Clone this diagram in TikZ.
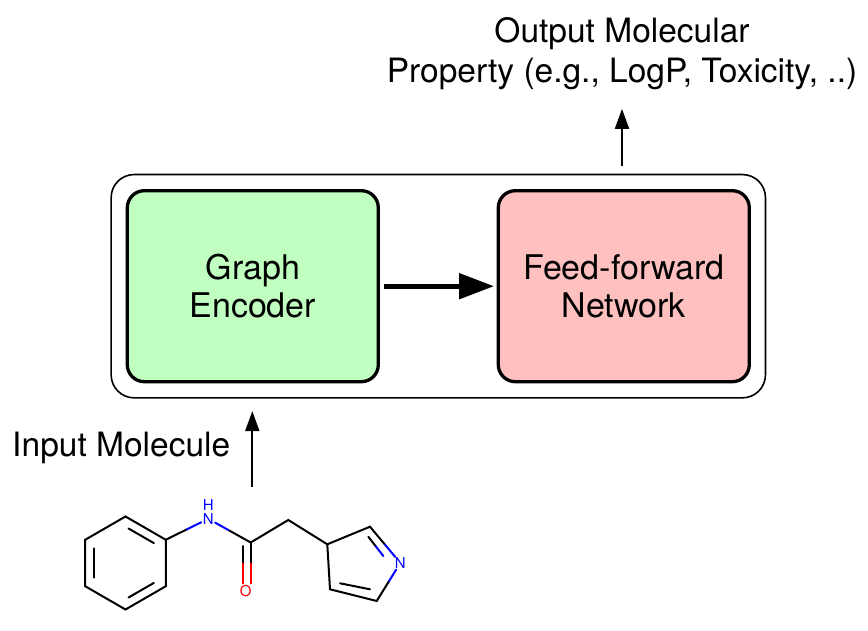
\documentclass[tikz,border=0pt]{standalone}
\usepackage{fontspec}
\setmainfont{TeX Gyre Heros}
\usetikzlibrary{arrows.meta}
\usetikzlibrary{positioning}
\usetikzlibrary{fit}
\usetikzlibrary{calc}
\definecolor{EncoderFill}{HTML}{C0FFC0}
\definecolor{NetworkFill}{HTML}{FFC0C0}
\definecolor{AtomN}{HTML}{0000FF}
\definecolor{AtomO}{HTML}{FF0000}
\tikzset{
  block/.style={draw, line width=3.3pt, rounded corners=17pt, minimum width=251pt,
    minimum height=191pt, align=center, font=\fontsize{34}{38}\selectfont},
  modelbox/.style={draw, line width=1.6pt, rounded corners=23pt, inner sep=14.5pt},
  txt/.style={inner sep=0pt, align=center, font=\fontsize{33.5}{40}\selectfont},
  flow/.style={line width=5pt, -{Triangle[length=35pt,width=25pt]}},
  feed/.style={line width=2pt, -{Triangle[length=20pt,width=14pt]}},
  bond/.style={line width=2pt, line cap=round},
  atom/.style={circle, inner sep=0pt, font=\fontsize{15}{18}\selectfont},
}

\begin{document}
\begin{tikzpicture}[x=1pt, y=-1pt]
    \useasboundingbox (0,0) rectangle (868,631);
    \node[block, fill=EncoderFill] (enc) at (252.8,286.2) {Graph\\Encoder};
    \node[block, fill=NetworkFill, right=116.7pt of enc] (ffn) {Feed-forward\\Network};
    \node[modelbox, fit=(enc)(ffn)] (model) {};
    \draw[flow, shorten <=4pt, shorten >=2.6pt] (enc) -- (ffn);
    \node[txt] (prop) at (622,53.5) {Output Molecular\\Property (e.g., LogP, Toxicity, ..)};
    \draw[feed, shorten <=7.5pt, shorten >=19pt] (prop.south |- model.north) -- (prop.south);
    \node[txt, anchor=base west] (inlbl) at (12,456.7) {Input Molecule};
    \coordinate (molin) at (252.3,486.7);
    \draw[feed, shorten >=12.5pt] (molin) -- (molin |- model.south);
    % molecule: benzene ring
    \coordinate (bc) at (125.5,563);
    \foreach \i in {1,...,6}
      \coordinate (b\i) at ($(bc)+(-150+60*\i:46.5)$);
    \draw[bond] (b1) -- (b2) -- (b3) -- (b4) -- (b5) -- (b6) -- cycle;
    \foreach \a/\b in {1/2,3/4,5/6}
      \draw[bond, shorten <=3.5pt, shorten >=3.5pt] ($(bc)!0.78!(b\a)$) -- ($(bc)!0.78!(b\b)$);
    % amide and chain
    \node[atom, text=AtomN] (n1) at (208.3,518.8) {N};
    \node[atom, rectangle, text=AtomN] (h1) at (208.3,505) {H};
    \coordinate (c1) at (250.7,542.5);
    \coordinate (c2) at (288.3,520);
    \node[atom, text=AtomO] (o1) at (245.8,591.2) {O};
    \draw[bond] (b2) -- ($(b2)!0.5!(n1)$);
    \draw[bond, AtomN] ($(b2)!0.5!(n1)$) -- (n1) -- ($(n1)!0.5!(c1)$);
    \foreach \dx/\yt in {0/0,-7.4/3.5} {
      \draw[bond] ($(c1)+(\dx,\yt)$) -- ($(c1)+(\dx,21)$);
      \draw[bond, AtomO] ($(c1)+(\dx,21)$) -- ($(c1)+(\dx,41)$);
    }
    % five-membered ring
    \coordinate (r1) at (327.3,544.3);
    \coordinate (r2) at (370,526.7);
    \node[atom, text=AtomN] (n2) at (400.3,563) {N};
    \coordinate (r4) at (376.7,601);
    \coordinate (r5) at (330,589.3);
    \draw[bond] ($(n1)!0.5!(c1)$) -- (c1) -- (c2) -- (r1) -- (r2) -- ($(r2)!0.5!(n2)$);
    \draw[bond, AtomN] ($(r2)!0.5!(n2)$) -- (n2) -- ($(n2)!0.5!(r4)$);
    \draw[bond] ($(n2)!0.5!(r4)$) -- (r4) -- (r5) -- (r1);
    \coordinate (d1) at (368.3,536.7);
    \coordinate (d2) at (383.3,556);
    \draw[bond] (d1) -- ($(d1)!0.5!(d2)$);
    \draw[bond, AtomN] ($(d1)!0.5!(d2)$) -- (d2);
    \coordinate (d3) at (340,583.3);
    \coordinate (d4) at (370,589.3);
    \draw[bond] (d3) -- (d4);
\end{tikzpicture}
\end{document}
